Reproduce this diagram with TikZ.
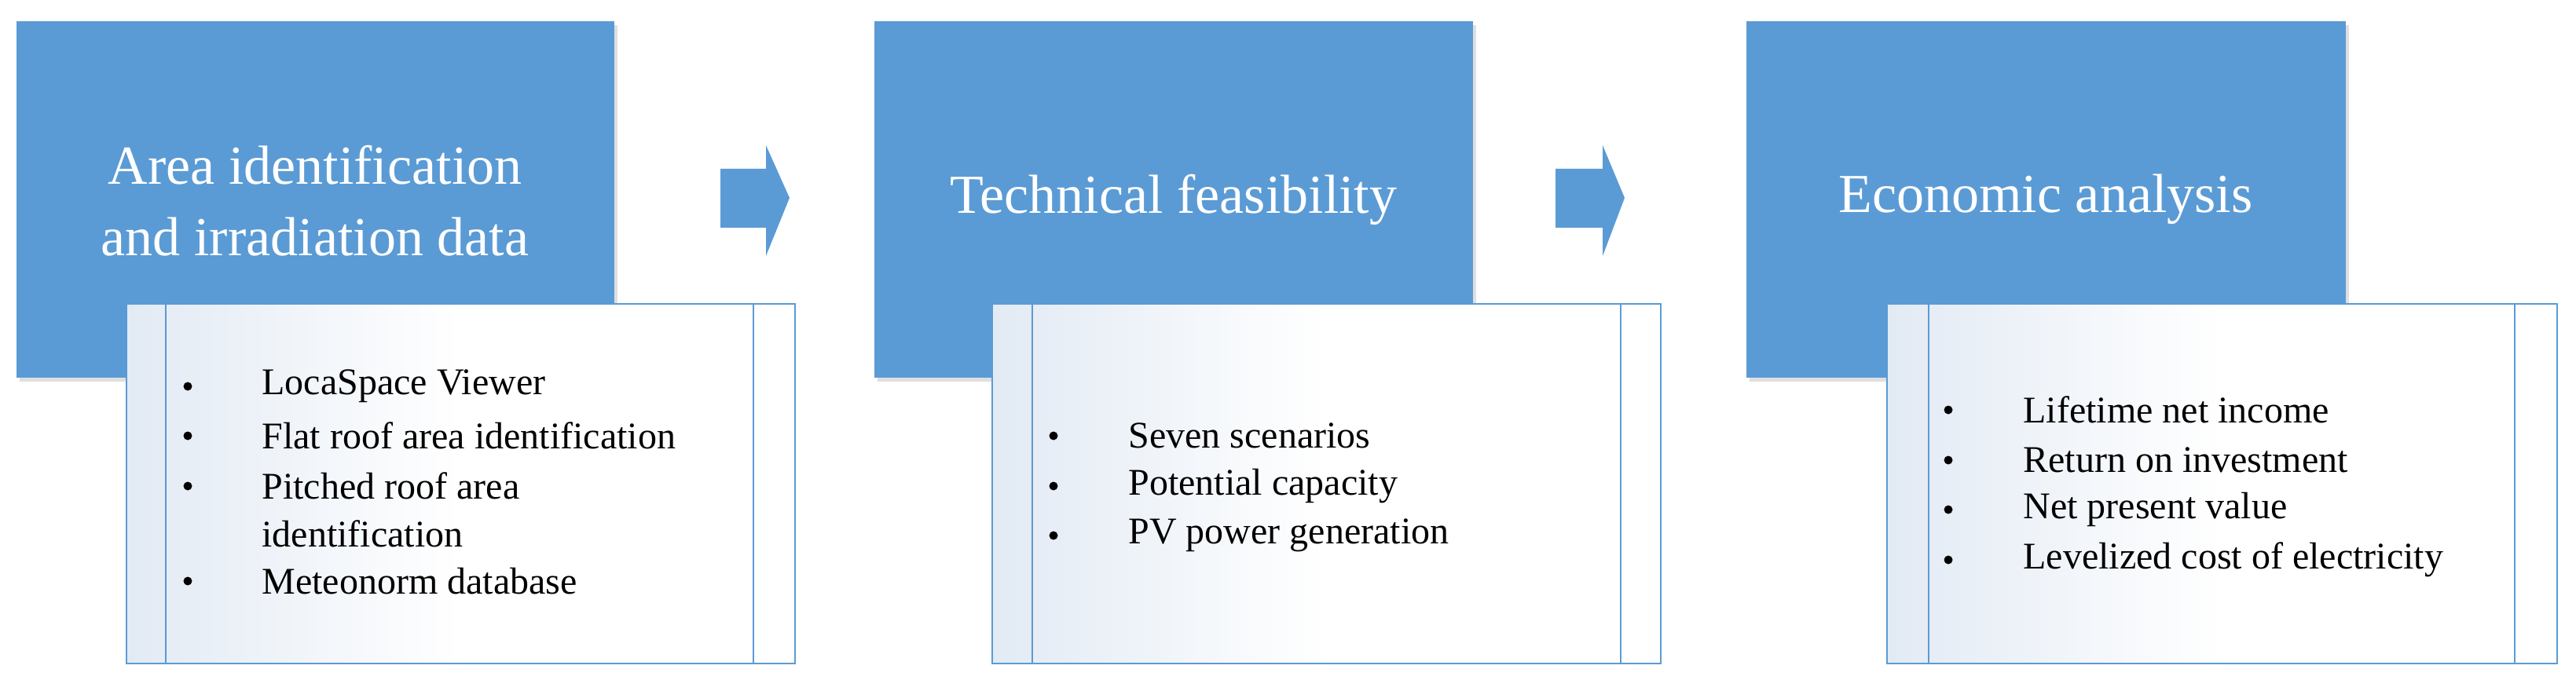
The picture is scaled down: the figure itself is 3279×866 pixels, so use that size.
\documentclass[tikz,border=0pt]{standalone}
\usepackage{fontspec}
\setmainfont{Liberation Serif}
\usetikzlibrary{shadows}
\definecolor{bl}{RGB}{91,155,213}
\definecolor{pale}{RGB}{226,234,244}
\tikzset{
 bluebox/.style={fill=bl,draw=none,drop shadow={shadow xshift=4pt,shadow yshift=-5pt,opacity=.25}},
 whitebox/.style={draw=bl,line width=2.5pt,left color=pale,right color=white,middle color=white},
 ttl/.style={text=white,font=\fontsize{70}{91}\selectfont,align=center},
 itm/.style={font=\fontsize{48}{63}\selectfont,anchor=west},
 bul/.style={circle,fill=black,inner sep=0pt,minimum size=11pt},
 arr/.style={fill=bl,draw=none}
}
\begin{document}
\begin{tikzpicture}[x=1pt,y=-1pt]
\useasboundingbox (0,0) rectangle (3279,866);
% box 1
\fill[bluebox] (21,27) rectangle (782,481);
\node[ttl] (t1) at (401,256) {Area identification\\and irradiation data};
\shade[whitebox] (161,387) rectangle (1012,845);
\draw[bl,line width=2.5pt] (211,387) -- (211,845) (959,387) -- (959,845);
\foreach \y/\t in {492/LocaSpace Viewer,555/Flat roof area identification,619/Pitched roof area,740/Meteonorm database}
 {\node[bul] at (239,\y) {}; \node[itm] at (330,\y) {\t};}
\node[itm] at (330,680) {identification};
% arrow 1
\fill[arr] (917,215) -- (975,215) -- (975,185) -- (1005,252) -- (975,326) -- (975,290) -- (917,290) -- cycle;
% box 2
\fill[bluebox] (1113,27) rectangle (1875,481);
\node[ttl] (t2) at (1494,254) {Technical feasibility};
\shade[whitebox] (1263,387) rectangle (2114,845);
\draw[bl,line width=2.5pt] (1314,387) -- (1314,845) (2063,387) -- (2063,845);
\foreach \y/\t in {555/Seven scenarios,619/Potential capacity,682/PV power generation}
 {\node[bul] at (1341,\y) {}; \node[itm] at (1433,\y) {\t};}
% arrow 2
\fill[arr] (1980,215) -- (2040,215) -- (2040,185) -- (2068,252) -- (2040,326) -- (2040,290) -- (1980,290) -- cycle;
% box 3
\fill[bluebox] (2223,27) rectangle (2986,481);
\node[ttl] (t3) at (2604,254) {Economic analysis};
\shade[whitebox] (2402,387) rectangle (3255,845);
\draw[bl,line width=2.5pt] (2455,387) -- (2455,845) (3201,387) -- (3201,845);
\foreach \y/\t in {522/Lifetime net income,586/Return on investment,649/Net present value,713/Levelized cost of electricity}
 {\node[bul] at (2480,\y) {}; \node[itm] at (2572,\y) {\t};}
\end{tikzpicture}
\end{document}
